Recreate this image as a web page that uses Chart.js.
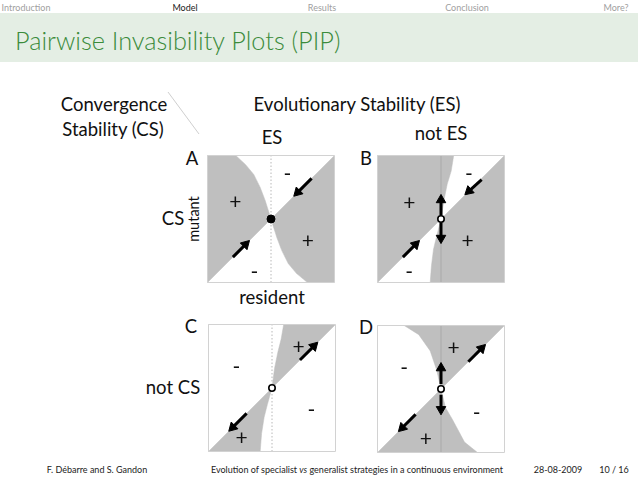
<!DOCTYPE html>
<html><head><meta charset="utf-8">
<script src="https://cdn.jsdelivr.net/npm/chart.js@4.4.0/dist/chart.umd.min.js"></script>
<style>
html,body{margin:0;padding:0;}
body{width:638px;height:479px;position:relative;overflow:hidden;background:#fff;font-family:Lato,"Open Sans",sans-serif;color:#111;}
.a{position:absolute;white-space:nowrap;line-height:1;}
.c{transform:translate(-50%,-50%);}
.nav{font-size:9px;color:#a0a0a0;top:7px;transform:translate(-50%,-50%);}
.band{position:absolute;left:0;top:13px;width:638px;height:49px;background:#e4eee4;}
.title{left:15px;top:28px;font-size:25.3px;font-weight:300;color:#3b8b3b;}
.lbl{font-size:18.5px;}
.sign{font-size:21px;}
.foot{font-size:9px;color:#222;top:469px;transform:translate(-50%,-50%);}
canvas{position:absolute;}
</style></head>
<body>
<div class="a nav" style="left:26px">Introduction</div>
<div class="a nav" style="left:185px;color:#222">Model</div>
<div class="a nav" style="left:322px">Results</div>
<div class="a nav" style="left:467px">Conclusion</div>
<div class="a nav" style="left:616px">More?</div>
<div class="band"></div>
<div class="a title">Pairwise Invasibility Plots (PIP)</div>

<div class="a lbl c" style="left:114px;top:104px">Convergence</div>
<div class="a lbl c" style="left:113px;top:129px">Stability (CS)</div>
<svg style="position:absolute;left:0;top:0" width="638" height="479"><line x1="168" y1="92" x2="199" y2="134" stroke="#cfcfcf" stroke-width="1"/></svg>
<div class="a lbl c" style="left:357px;top:104px">Evolutionary Stability (ES)</div>
<div class="a lbl c" style="left:272px;top:137px">ES</div>
<div class="a lbl c" style="left:441px;top:133px">not ES</div>
<div class="a lbl c" style="left:173px;top:218px">CS</div>
<div class="a c" style="left:194px;top:219px;font-size:14.5px;transform:translate(-50%,-50%) rotate(-90deg)">mutant</div>
<div class="a lbl c" style="left:272px;top:297px">resident</div>
<div class="a lbl c" style="left:173px;top:387px">not CS</div>
<div class="a lbl c" style="left:192px;top:158px">A</div>
<div class="a lbl c" style="left:366px;top:158px">B</div>
<div class="a lbl c" style="left:191px;top:326px">C</div>
<div class="a lbl c" style="left:366px;top:327px">D</div>

<canvas id="cA" width="140" height="140" style="left:201px;top:149px;width:140px;height:140px"></canvas>
<canvas id="cB" width="140" height="140" style="left:371px;top:149px;width:140px;height:140px"></canvas>
<canvas id="cC" width="140" height="140" style="left:202px;top:318px;width:140px;height:140px"></canvas>
<canvas id="cD" width="140" height="140" style="left:371px;top:319px;width:140px;height:140px"></canvas>

<div class="a foot" style="left:97px">F. Débarre and S. Gandon</div>
<div class="a foot" style="left:357px">Evolution of specialist <i>vs</i> generalist strategies in a continuous environment</div>
<div class="a foot" style="left:558px">28-08-2009</div>
<div class="a foot" style="left:614px">10 / 16</div>

<script>
// ---- data (unit square: resident on x, mutant on y) ----
const curveA = [[0.223,1.0],[0.30,0.928],[0.364,0.851],[0.415,0.749],[0.454,0.646],[0.5,0.5],[0.546,0.354],[0.585,0.251],[0.636,0.149],[0.70,0.072],[0.787,0.0]];
const curveB = [[0.60,1.0],[0.58,0.877],[0.549,0.775],[0.523,0.646],[0.5,0.5],[0.466,0.364],[0.441,0.262],[0.425,0.133],[0.415,0.0]];
const curveC = [[0.592,1.0],[0.572,0.885],[0.546,0.782],[0.52,0.654],[0.5,0.5],[0.464,0.372],[0.438,0.269],[0.418,0.141],[0.407,0.0]];
const curveD = [[0.21,1.0],[0.325,0.928],[0.415,0.80],[0.467,0.646],[0.5,0.5],[0.535,0.354],[0.59,0.26],[0.685,0.082],[0.787,0.0]];

const arrowsA = [[0.20,0.20,0.30,0.30],[0.82,0.82,0.71,0.71]];
const arrowsB = [[0.20,0.20,0.30,0.30],[0.82,0.81,0.72,0.72],[0.5,0.53,0.5,0.65],[0.5,0.47,0.5,0.35]];
const arrowsC = [[0.72,0.72,0.83,0.83],[0.30,0.30,0.19,0.19]];
const arrowsD = [[0.715,0.715,0.82,0.82],[0.30,0.30,0.195,0.195],[0.5,0.54,0.5,0.665],[0.5,0.455,0.5,0.34]];

const signsA = [['+',0.22,0.65],['-',0.63,0.87],['+',0.79,0.34],['-',0.37,0.10]];
const signsB = [['+',0.25,0.64],['-',0.72,0.87],['+',0.71,0.34],['-',0.25,0.10]];
const signsC = [['+',0.71,0.84],['-',0.22,0.68],['-',0.81,0.34],['+',0.26,0.12]];
const signsD = [['+',0.60,0.84],['-',0.21,0.68],['-',0.78,0.33],['+',0.38,0.12]];

const esPanels = ['A','B'];       // grey left of curve above diagonal
const singularFilled = ['A'];     // filled black singular point
const dottedResident = ['A','C'];  // dotted vertical line

// ---- build charts ----
const GREY = '#bfbfbf';
function pts(arr){ return arr.map(p => ({x:p[0], y:p[1]})); }

function makePanel(id, key, curve, arrows, signs){
  const top = curve.filter(p => p[1] >= 0.5);      // top -> centre
  const bot = curve.filter(p => p[1] <= 0.5);      // centre -> bottom
  let polys;
  if (esPanels.includes(key)) {
    polys = [
      [[0,0],[0,1]].concat(top).concat([[0,0]]),
      [[0.5,0.5]].concat(bot).concat([[1,0],[1,1],[0.5,0.5]])
    ];
  } else {
    polys = [
      [[0.5,0.5]].concat(top.slice().reverse()).concat([[1,1],[0.5,0.5]]),
      [[0,0]].concat(bot.slice().reverse()).concat([[0,0]])
    ];
  }
  const ds = [];
  polys.forEach(p => ds.push({data: pts(p), showLine:true, fill:'shape', backgroundColor:GREY,
     borderColor:GREY, borderWidth:0.5, pointRadius:0, order:10}));
  const dotted = dottedResident.includes(key);
  ds.push({data: pts([[0.5,0],[0.5,1]]), showLine:true, fill:false, borderColor: dotted ? '#b8b8b8' : '#a9a9a9',
     borderWidth:1, borderDash: dotted ? [1.5,2] : [], pointRadius:0, order:8});
  ds.push({data: pts([[0,0],[1,0],[1,1],[0,1],[0,0]]), showLine:true, fill:false, borderColor:'#d2d2d2',
     borderWidth:1, pointRadius:0, order:7, clip:6});
  arrows.forEach(a => {
    const ang = Math.atan2(a[2]-a[0], a[3]-a[1]) * 180 / Math.PI;
    ds.push({data: pts([[a[0],a[1]],[a[2],a[3]]]), showLine:true, fill:false, borderColor:'#000',
      borderWidth:3, borderCapStyle:'butt', pointRadius:[0,5.5], pointStyle:'triangle', pointRotation:ang,
      pointBackgroundColor:'#000', pointBorderColor:'#000', pointBorderWidth:1, order:3});
  });
  const filled = singularFilled.includes(key);
  ds.push({data: pts([[0.5,0.5]]), showLine:false, pointRadius: filled ? 4 : 3.2,
     pointBackgroundColor: filled ? '#000' : '#fff', pointBorderColor:'#000', pointBorderWidth: filled ? 1 : 1.6, order:1});

  const canvas = document.getElementById(id);
  const chart = new Chart(canvas, {
    type:'scatter',
    data:{datasets: ds},
    options:{
      responsive:false, animation:false, events:[],
      layout:{padding:5},
      elements:{line:{tension:0}},
      scales:{
        x:{type:'linear', min:0, max:1, display:false},
        y:{type:'linear', min:0, max:1, display:false}
      },
      plugins:{legend:{display:false}, tooltip:{enabled:false}}
    }
  });
  const left = canvas.offsetLeft, topPx = canvas.offsetTop;
  signs.forEach(s => {
    const d = document.createElement('div');
    d.className = 'a c sign';
    d.textContent = s[0];
    d.style.left = (left + chart.scales.x.getPixelForValue(s[1])) + 'px';
    d.style.top = (topPx + chart.scales.y.getPixelForValue(s[2])) + 'px';
    document.body.appendChild(d);
  });
}

makePanel('cA','A',curveA,arrowsA,signsA);
makePanel('cB','B',curveB,arrowsB,signsB);
makePanel('cC','C',curveC,arrowsC,signsC);
makePanel('cD','D',curveD,arrowsD,signsD);
</script>
</body></html>
